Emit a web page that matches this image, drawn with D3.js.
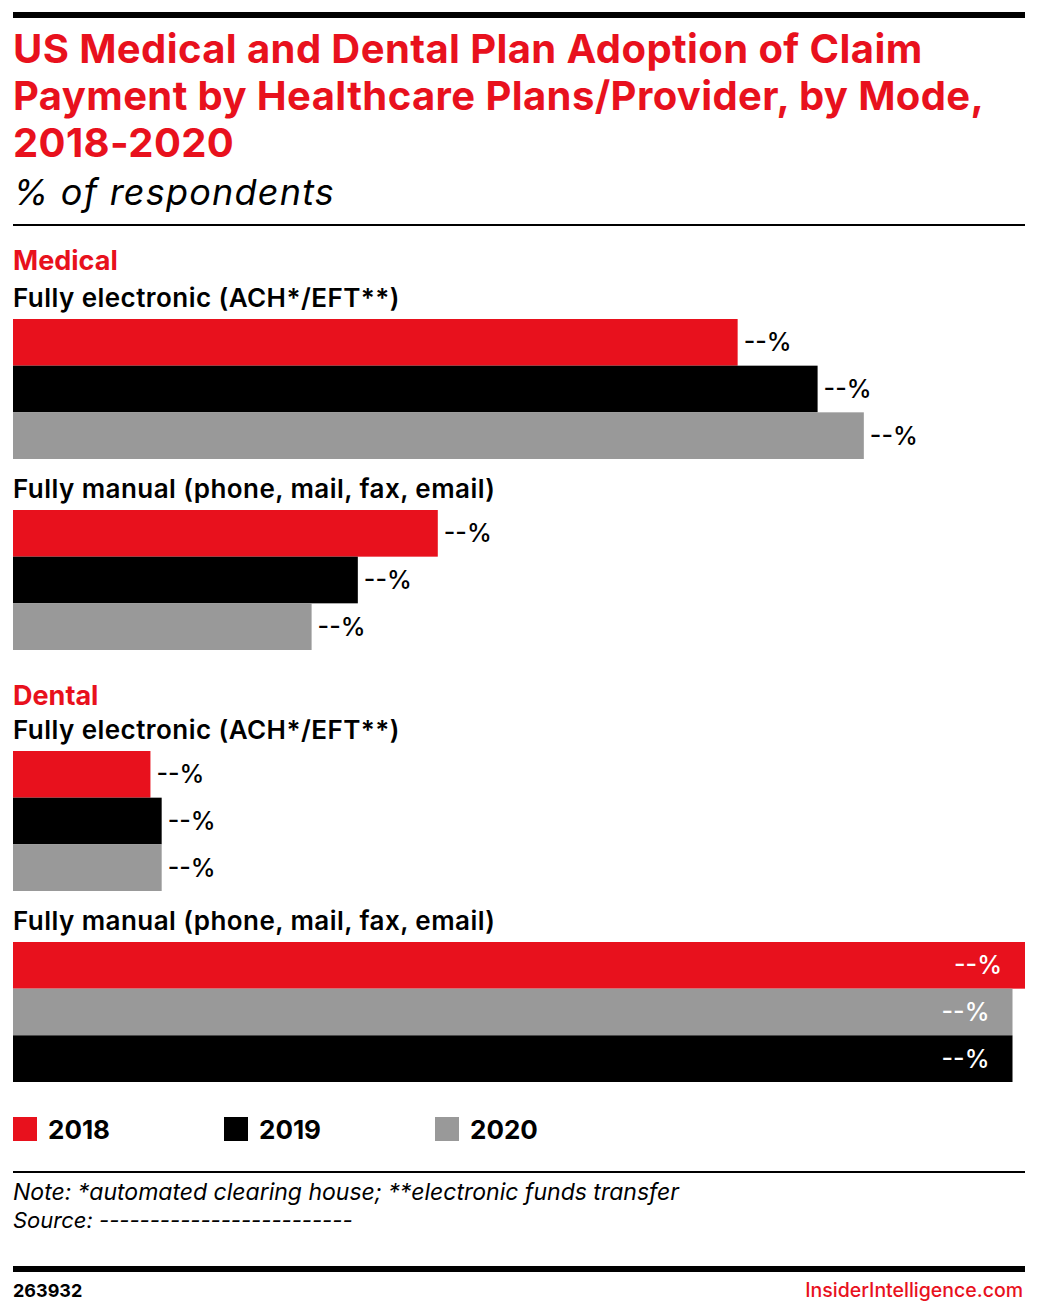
<!DOCTYPE html>
<html lang="en">
<head>
<meta charset="utf-8">
<title>US Medical and Dental Plan Adoption of Claim Payment</title>
<script src="https://cdn.jsdelivr.net/npm/d3@7"></script>
<style>
  body { margin: 0; background: #fff; }
  svg text { font-family: Inter, "Open Sans", sans-serif; }
</style>
</head>
<body>
<script>
// data
var years = ["2018", "2019", "2020"];
var sections = ["Medical", "Medical", "Dental", "Dental"];
var modes = ["Fully electronic (ACH*/EFT**)", "Fully manual (phone, mail, fax, email)",
             "Fully electronic (ACH*/EFT**)", "Fully manual (phone, mail, fax, email)"];
// bar order inside each group, as in the picture
var barOrder = [["2018", "2019", "2020"], ["2018", "2019", "2020"],
                ["2018", "2019", "2020"], ["2018", "2020", "2019"]];
var values2018 = [58, 34, 11, 81];
var values2019 = [64.4, 27.6, 11.9, 80];
var values2020 = [68.1, 23.9, 11.9, 80];
var valueLabel = "--%";

var w = 1038, h = 1315;
var left = 13, right = 1025;
var red = "#e8111d", black = "#000", grey = "#999";

var colour = d3.scaleOrdinal().domain(years).range([red, black, grey]);
var byYear = { "2018": values2018, "2019": values2019, "2020": values2020 };

var svg = d3.select("body").append("svg")
  .attr("width", w).attr("height", h);

// top rule
svg.append("rect").attr("x", left).attr("y", 12).attr("width", right - left).attr("height", 6).attr("fill", black);

var titleLines = ["US Medical and Dental Plan Adoption of Claim",
                  "Payment by Healthcare Plans/Provider, by Mode,",
                  "2018-2020"];
svg.selectAll("text.title")
  .data(titleLines)
  .enter().append("text")
  .attr("class", "title")
  .attr("x", left)
  .attr("y", function(d, i) { return 63 + i * 47; })
  .attr("font-size", "40px")
  .attr("font-weight", 700)
  .attr("letter-spacing", "0.4px")
  .attr("fill", red)
  .text(function(d) { return d; });

svg.append("text")
  .attr("x", left).attr("y", 205)
  .attr("font-size", "36px")
  .attr("font-style", "italic")
  .attr("letter-spacing", "1.2px")
  .attr("fill", black)
  .text("% of respondents");

svg.append("rect").attr("x", left).attr("y", 224).attr("width", right - left).attr("height", 2).attr("fill", black);

// scales
var xScale = d3.scaleLinear().domain([0, 81]).range([left, right]);

var groupTops = [319, 510, 751, 942];
var sectionLabelY = { 0: 270, 2: 705 };

modes.forEach(function(mode, gi) {
  var g = svg.append("g");
  if (sectionLabelY[gi] !== undefined) {
    g.append("text")
      .attr("x", left).attr("y", sectionLabelY[gi])
      .attr("font-size", "27px").attr("font-weight", 700)
      .attr("fill", red)
      .text(sections[gi]);
  }
  g.append("text")
    .attr("x", left).attr("y", groupTops[gi] - 12)
    .attr("font-size", "26px").attr("font-weight", 600)
    .attr("letter-spacing", "0.45px")
    .attr("fill", black)
    .text(mode);

  var yScale = d3.scaleBand()
    .domain(barOrder[gi])
    .range([groupTops[gi], groupTops[gi] + 140])
    .padding(0);

  var rows = barOrder[gi].map(function(yr) { return { year: yr, value: byYear[yr][gi] }; });
  var inside = gi === 3;

  g.selectAll("rect.bar")
    .data(rows)
    .enter().append("rect")
    .attr("class", "bar")
    .attr("x", xScale(0))
    .attr("y", function(d) { return yScale(d.year); })
    .attr("width", function(d) { return xScale(d.value) - xScale(0); })
    .attr("height", yScale.bandwidth())
    .attr("fill", function(d) { return colour(d.year); });

  g.selectAll("text.val")
    .data(rows)
    .enter().append("text")
    .attr("class", "val")
    .attr("x", function(d) { return inside ? xScale(d.value) - 23 : xScale(d.value) + 6; })
    .attr("y", function(d) { return yScale(d.year) + yScale.bandwidth() / 2 + 9; })
    .attr("text-anchor", inside ? "end" : "start")
    .attr("font-size", "25px").attr("font-weight", 500)
    .attr("fill", inside ? "#fff" : black)
    .text(valueLabel);
});

// legend
var legendX = d3.scalePoint().domain(years).range([13, 435]);
var legend = svg.selectAll("g.legend")
  .data(years)
  .enter().append("g")
  .attr("class", "legend")
  .attr("transform", function(d) { return "translate(" + legendX(d) + ",1117)"; });
legend.append("rect")
  .attr("width", 24).attr("height", 24)
  .attr("fill", function(d) { return colour(d); });
legend.append("text")
  .attr("x", 35).attr("y", 22)
  .attr("font-size", "26px").attr("font-weight", 700)
  .attr("fill", black)
  .text(function(d) { return d; });

svg.append("rect").attr("x", left).attr("y", 1171).attr("width", right - left).attr("height", 2).attr("fill", black);

svg.append("text")
  .attr("x", left).attr("y", 1200)
  .attr("font-size", "23px").attr("font-style", "italic")
  .attr("fill", black)
  .text("Note: *automated clearing house; **electronic funds transfer");
svg.append("text")
  .attr("x", left).attr("y", 1228)
  .attr("font-size", "22px").attr("font-style", "italic")
  .attr("fill", black)
  .text("Source: -------------------------");

svg.append("rect").attr("x", left).attr("y", 1266).attr("width", right - left).attr("height", 6).attr("fill", black);

svg.append("text")
  .attr("x", left).attr("y", 1297)
  .attr("font-size", "18px").attr("font-weight", 700)
  .attr("fill", black)
  .text("263932");
svg.append("text")
  .attr("x", 1023).attr("y", 1297)
  .attr("text-anchor", "end")
  .attr("font-size", "19.5px").attr("font-weight", 500)
  .attr("fill", red)
  .text("InsiderIntelligence.com");
</script>
</body>
</html>
